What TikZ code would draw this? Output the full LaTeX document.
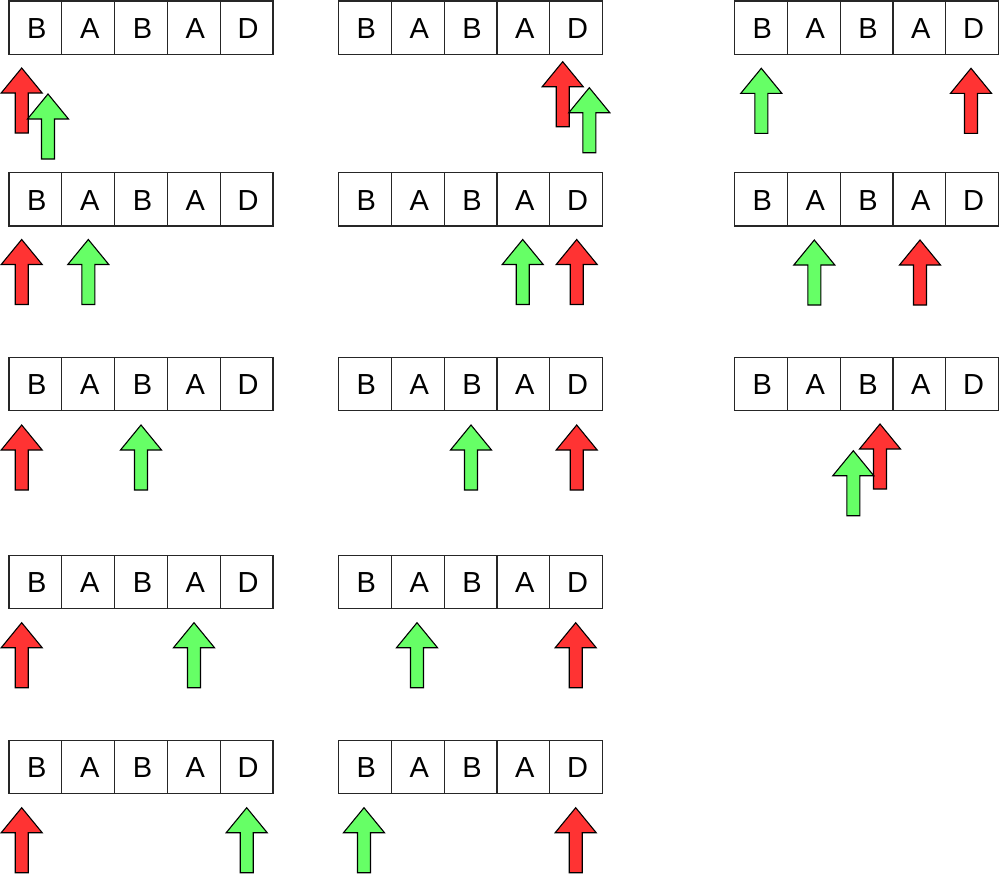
\documentclass[tikz,border=0pt]{standalone}
\usepackage{fontspec}
\setmainfont{Liberation Sans}
\definecolor{rd}{HTML}{FF3333}
\definecolor{gr}{HTML}{66FF66}
\tikzset{
  cellbox/.style={draw=black!85, line width=1.2pt, minimum width=52.8pt, minimum height=53.3pt,
    inner sep=0pt, outer sep=0pt, anchor=north west},
  celltext/.style={inner sep=0pt, font=\fontsize{29}{29}\selectfont, xshift=1.5pt, yshift=-1pt},
  uparrow/.pic={
    \draw[pic actions, line width=1.1pt, line join=miter]
      (0,0) -- (20.5,25) -- (6.5,25) -- (6.5,65) -- (-6.5,65) -- (-6.5,25) -- (-20.5,25) -- cycle;
  },
  redarrow/.style={fill=rd, draw=black},
  greenarrow/.style={fill=gr, draw=black},
}
\newcommand{\strarray}[3]{%
  \foreach \ch [count=\i from 0] in {B,A,B,A,D} {
    \node[cellbox] (#3c\i) at ({#1+52.8*\i},#2) {};
    \node[celltext] (#3t\i) at (#3c\i.center) {\ch};
  }%
}
\begin{document}
\begin{tikzpicture}[x=1pt,y=-1pt]
\useasboundingbox (0,0) rectangle (1000,873);
% column 1
\strarray{9}{1}{aa}
\strarray{9}{172.7}{ab}
\strarray{9}{357.3}{ac}
\strarray{9}{555.3}{ad}
\strarray{9}{740.3}{ae}
% column 2
\strarray{338.5}{1}{ba}
\strarray{338.5}{172.7}{bb}
\strarray{338.5}{357.3}{bc}
\strarray{338.5}{555.3}{bd}
\strarray{338.5}{740.3}{be}
% column 3
\strarray{734.5}{1}{ca}
\strarray{734.5}{172.7}{cb}
\strarray{734.5}{357.3}{cc}
% arrows column 1
\pic[redarrow] at (21.7,68) {uparrow};
\pic[greenarrow] at (48,94) {uparrow};
\pic[redarrow] at (21.7,239.5) {uparrow};
\pic[greenarrow] at (88.3,239.5) {uparrow};
\pic[redarrow] at (21.7,425) {uparrow};
\pic[greenarrow] at (141,425) {uparrow};
\pic[redarrow] at (21.7,622.7) {uparrow};
\pic[greenarrow] at (194,622.7) {uparrow};
\pic[redarrow] at (21.7,807.7) {uparrow};
\pic[greenarrow] at (246.7,807.7) {uparrow};
% arrows column 2
\pic[redarrow] at (562.7,61.7) {uparrow};
\pic[greenarrow] at (589.3,87.7) {uparrow};
\pic[redarrow] at (576.7,239.5) {uparrow};
\pic[greenarrow] at (522.7,239.5) {uparrow};
\pic[redarrow] at (576.7,425) {uparrow};
\pic[greenarrow] at (471,425) {uparrow};
\pic[redarrow] at (575.7,622.7) {uparrow};
\pic[greenarrow] at (417,622.7) {uparrow};
\pic[redarrow] at (575.7,807.7) {uparrow};
\pic[greenarrow] at (364,807.7) {uparrow};
% arrows column 3
\pic[redarrow] at (971,68.3) {uparrow};
\pic[greenarrow] at (761.3,68.3) {uparrow};
\pic[redarrow] at (920,240) {uparrow};
\pic[greenarrow] at (814.3,240) {uparrow};
\pic[redarrow] at (880,424) {uparrow};
\pic[greenarrow] at (853.3,450.7) {uparrow};
\end{tikzpicture}
\end{document}
